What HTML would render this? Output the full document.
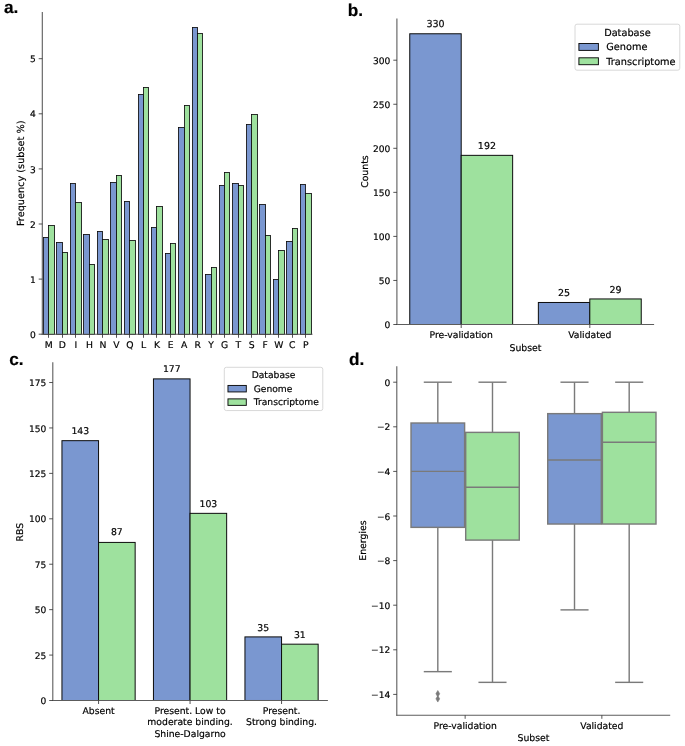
<!DOCTYPE html>
<html lang="en"><head><meta charset="utf-8"><title>Figure</title>
<style>
html,body{margin:0;padding:0;background:#fff;}
body{width:685px;height:746px;overflow:hidden;}
svg{display:block;}
text{font-family:"DejaVu Sans","Liberation Sans",sans-serif;fill:#000;text-rendering:geometricPrecision;stroke:#000;stroke-width:0.18px;}
text.pl{font-family:"Liberation Sans","DejaVu Sans",sans-serif;font-weight:bold;font-size:17.2px;fill:#000;}
</style></head><body>
<svg width="685" height="746" viewBox="0 0 685 746">
<rect width="685" height="746" fill="#fff" stroke="none"/>
<text x="3.9" y="13.4" class="pl">a.</text>
<rect x="43.50" y="237.50" width="5.00" height="97.00" fill="#7a97d0" stroke="#0c0c0c" stroke-width="0.85" />
<rect x="48.50" y="225.50" width="6.00" height="109.00" fill="#9ee19e" stroke="#0c0c0c" stroke-width="0.85" />
<rect x="56.50" y="242.50" width="6.00" height="92.00" fill="#7a97d0" stroke="#0c0c0c" stroke-width="0.85" />
<rect x="62.50" y="252.50" width="5.00" height="82.00" fill="#9ee19e" stroke="#0c0c0c" stroke-width="0.85" />
<rect x="70.50" y="183.50" width="5.00" height="151.00" fill="#7a97d0" stroke="#0c0c0c" stroke-width="0.85" />
<rect x="75.50" y="202.50" width="6.00" height="132.00" fill="#9ee19e" stroke="#0c0c0c" stroke-width="0.85" />
<rect x="83.50" y="234.50" width="6.00" height="100.00" fill="#7a97d0" stroke="#0c0c0c" stroke-width="0.85" />
<rect x="89.50" y="264.50" width="5.00" height="70.00" fill="#9ee19e" stroke="#0c0c0c" stroke-width="0.85" />
<rect x="97.50" y="231.50" width="5.00" height="103.00" fill="#7a97d0" stroke="#0c0c0c" stroke-width="0.85" />
<rect x="102.50" y="239.50" width="6.00" height="95.00" fill="#9ee19e" stroke="#0c0c0c" stroke-width="0.85" />
<rect x="110.50" y="182.50" width="6.00" height="152.00" fill="#7a97d0" stroke="#0c0c0c" stroke-width="0.85" />
<rect x="116.50" y="175.50" width="5.00" height="159.00" fill="#9ee19e" stroke="#0c0c0c" stroke-width="0.85" />
<rect x="124.50" y="201.50" width="5.00" height="133.00" fill="#7a97d0" stroke="#0c0c0c" stroke-width="0.85" />
<rect x="129.50" y="240.50" width="6.00" height="94.00" fill="#9ee19e" stroke="#0c0c0c" stroke-width="0.85" />
<rect x="138.50" y="94.50" width="5.00" height="240.00" fill="#7a97d0" stroke="#0c0c0c" stroke-width="0.85" />
<rect x="143.50" y="87.50" width="5.00" height="247.00" fill="#9ee19e" stroke="#0c0c0c" stroke-width="0.85" />
<rect x="151.50" y="227.50" width="5.00" height="107.00" fill="#7a97d0" stroke="#0c0c0c" stroke-width="0.85" />
<rect x="156.50" y="206.50" width="6.00" height="128.00" fill="#9ee19e" stroke="#0c0c0c" stroke-width="0.85" />
<rect x="165.50" y="253.50" width="5.00" height="81.00" fill="#7a97d0" stroke="#0c0c0c" stroke-width="0.85" />
<rect x="170.50" y="243.50" width="5.00" height="91.00" fill="#9ee19e" stroke="#0c0c0c" stroke-width="0.85" />
<rect x="178.50" y="127.50" width="6.00" height="207.00" fill="#7a97d0" stroke="#0c0c0c" stroke-width="0.85" />
<rect x="184.50" y="105.50" width="5.00" height="229.00" fill="#9ee19e" stroke="#0c0c0c" stroke-width="0.85" />
<rect x="192.50" y="27.50" width="5.00" height="307.00" fill="#7a97d0" stroke="#0c0c0c" stroke-width="0.85" />
<rect x="197.50" y="33.50" width="5.00" height="301.00" fill="#9ee19e" stroke="#0c0c0c" stroke-width="0.85" />
<rect x="205.50" y="274.50" width="6.00" height="60.00" fill="#7a97d0" stroke="#0c0c0c" stroke-width="0.85" />
<rect x="211.50" y="267.50" width="5.00" height="67.00" fill="#9ee19e" stroke="#0c0c0c" stroke-width="0.85" />
<rect x="219.50" y="185.50" width="5.00" height="149.00" fill="#7a97d0" stroke="#0c0c0c" stroke-width="0.85" />
<rect x="224.50" y="172.50" width="5.00" height="162.00" fill="#9ee19e" stroke="#0c0c0c" stroke-width="0.85" />
<rect x="232.50" y="183.50" width="6.00" height="151.00" fill="#7a97d0" stroke="#0c0c0c" stroke-width="0.85" />
<rect x="238.50" y="185.50" width="5.00" height="149.00" fill="#9ee19e" stroke="#0c0c0c" stroke-width="0.85" />
<rect x="246.50" y="124.50" width="5.00" height="210.00" fill="#7a97d0" stroke="#0c0c0c" stroke-width="0.85" />
<rect x="251.50" y="114.50" width="6.00" height="220.00" fill="#9ee19e" stroke="#0c0c0c" stroke-width="0.85" />
<rect x="259.50" y="204.50" width="6.00" height="130.00" fill="#7a97d0" stroke="#0c0c0c" stroke-width="0.85" />
<rect x="265.50" y="235.50" width="5.00" height="99.00" fill="#9ee19e" stroke="#0c0c0c" stroke-width="0.85" />
<rect x="273.50" y="279.50" width="5.00" height="55.00" fill="#7a97d0" stroke="#0c0c0c" stroke-width="0.85" />
<rect x="278.50" y="250.50" width="6.00" height="84.00" fill="#9ee19e" stroke="#0c0c0c" stroke-width="0.85" />
<rect x="286.50" y="241.50" width="6.00" height="93.00" fill="#7a97d0" stroke="#0c0c0c" stroke-width="0.85" />
<rect x="292.50" y="228.50" width="5.00" height="106.00" fill="#9ee19e" stroke="#0c0c0c" stroke-width="0.85" />
<rect x="300.50" y="184.50" width="5.00" height="150.00" fill="#7a97d0" stroke="#0c0c0c" stroke-width="0.85" />
<rect x="305.50" y="193.50" width="6.00" height="141.00" fill="#9ee19e" stroke="#0c0c0c" stroke-width="0.85" />
<line x1="42.30" y1="12.00" x2="42.30" y2="334.70" stroke="#5c5c5c" stroke-width="1.1" />
<line x1="41.80" y1="334.20" x2="312.50" y2="334.20" stroke="#5c5c5c" stroke-width="1.1" />
<line x1="48.50" y1="334.20" x2="48.50" y2="337.80" stroke="#2a2a2a" stroke-width="0.8" />
<text x="48.86" y="348.00" text-anchor="middle" font-size="9.25" >M</text>
<line x1="62.50" y1="334.20" x2="62.50" y2="337.80" stroke="#2a2a2a" stroke-width="0.8" />
<text x="62.39" y="348.00" text-anchor="middle" font-size="9.25" >D</text>
<line x1="75.50" y1="334.20" x2="75.50" y2="337.80" stroke="#2a2a2a" stroke-width="0.8" />
<text x="75.91" y="348.00" text-anchor="middle" font-size="9.25" >I</text>
<line x1="89.50" y1="334.20" x2="89.50" y2="337.80" stroke="#2a2a2a" stroke-width="0.8" />
<text x="89.44" y="348.00" text-anchor="middle" font-size="9.25" >H</text>
<line x1="102.50" y1="334.20" x2="102.50" y2="337.80" stroke="#2a2a2a" stroke-width="0.8" />
<text x="102.96" y="348.00" text-anchor="middle" font-size="9.25" >N</text>
<line x1="116.50" y1="334.20" x2="116.50" y2="337.80" stroke="#2a2a2a" stroke-width="0.8" />
<text x="116.49" y="348.00" text-anchor="middle" font-size="9.25" >V</text>
<line x1="129.50" y1="334.20" x2="129.50" y2="337.80" stroke="#2a2a2a" stroke-width="0.8" />
<text x="130.01" y="348.00" text-anchor="middle" font-size="9.25" >Q</text>
<line x1="143.50" y1="334.20" x2="143.50" y2="337.80" stroke="#2a2a2a" stroke-width="0.8" />
<text x="143.54" y="348.00" text-anchor="middle" font-size="9.25" >L</text>
<line x1="156.50" y1="334.20" x2="156.50" y2="337.80" stroke="#2a2a2a" stroke-width="0.8" />
<text x="157.06" y="348.00" text-anchor="middle" font-size="9.25" >K</text>
<line x1="170.50" y1="334.20" x2="170.50" y2="337.80" stroke="#2a2a2a" stroke-width="0.8" />
<text x="170.59" y="348.00" text-anchor="middle" font-size="9.25" >E</text>
<line x1="184.50" y1="334.20" x2="184.50" y2="337.80" stroke="#2a2a2a" stroke-width="0.8" />
<text x="184.11" y="348.00" text-anchor="middle" font-size="9.25" >A</text>
<line x1="197.50" y1="334.20" x2="197.50" y2="337.80" stroke="#2a2a2a" stroke-width="0.8" />
<text x="197.64" y="348.00" text-anchor="middle" font-size="9.25" >R</text>
<line x1="211.50" y1="334.20" x2="211.50" y2="337.80" stroke="#2a2a2a" stroke-width="0.8" />
<text x="211.16" y="348.00" text-anchor="middle" font-size="9.25" >Y</text>
<line x1="224.50" y1="334.20" x2="224.50" y2="337.80" stroke="#2a2a2a" stroke-width="0.8" />
<text x="224.69" y="348.00" text-anchor="middle" font-size="9.25" >G</text>
<line x1="238.50" y1="334.20" x2="238.50" y2="337.80" stroke="#2a2a2a" stroke-width="0.8" />
<text x="238.21" y="348.00" text-anchor="middle" font-size="9.25" >T</text>
<line x1="251.50" y1="334.20" x2="251.50" y2="337.80" stroke="#2a2a2a" stroke-width="0.8" />
<text x="251.74" y="348.00" text-anchor="middle" font-size="9.25" >S</text>
<line x1="265.50" y1="334.20" x2="265.50" y2="337.80" stroke="#2a2a2a" stroke-width="0.8" />
<text x="265.26" y="348.00" text-anchor="middle" font-size="9.25" >F</text>
<line x1="278.50" y1="334.20" x2="278.50" y2="337.80" stroke="#2a2a2a" stroke-width="0.8" />
<text x="278.79" y="348.00" text-anchor="middle" font-size="9.25" >W</text>
<line x1="292.50" y1="334.20" x2="292.50" y2="337.80" stroke="#2a2a2a" stroke-width="0.8" />
<text x="292.31" y="348.00" text-anchor="middle" font-size="9.25" >C</text>
<line x1="305.50" y1="334.20" x2="305.50" y2="337.80" stroke="#2a2a2a" stroke-width="0.8" />
<text x="305.84" y="348.00" text-anchor="middle" font-size="9.25" >P</text>
<line x1="38.70" y1="334.20" x2="42.30" y2="334.20" stroke="#2a2a2a" stroke-width="0.8" />
<text x="35.80" y="337.82" text-anchor="end" font-size="9.1" >0</text>
<line x1="38.70" y1="279.10" x2="42.30" y2="279.10" stroke="#2a2a2a" stroke-width="0.8" />
<text x="35.80" y="282.72" text-anchor="end" font-size="9.1" >1</text>
<line x1="38.70" y1="224.00" x2="42.30" y2="224.00" stroke="#2a2a2a" stroke-width="0.8" />
<text x="35.80" y="227.62" text-anchor="end" font-size="9.1" >2</text>
<line x1="38.70" y1="168.90" x2="42.30" y2="168.90" stroke="#2a2a2a" stroke-width="0.8" />
<text x="35.80" y="172.52" text-anchor="end" font-size="9.1" >3</text>
<line x1="38.70" y1="113.80" x2="42.30" y2="113.80" stroke="#2a2a2a" stroke-width="0.8" />
<text x="35.80" y="117.42" text-anchor="end" font-size="9.1" >4</text>
<line x1="38.70" y1="58.70" x2="42.30" y2="58.70" stroke="#2a2a2a" stroke-width="0.8" />
<text x="35.80" y="62.32" text-anchor="end" font-size="9.1" >5</text>
<text transform="translate(23.50 173.30) rotate(-90)" text-anchor="middle" font-size="9.72">Frequency (subset %)</text>
<text x="347.8" y="15.9" class="pl">b.</text>
<rect x="409.76" y="33.77" width="51.44" height="290.73" fill="#7a97d0" stroke="#0c0c0c" stroke-width="1.0" />
<rect x="461.20" y="155.35" width="51.44" height="169.15" fill="#9ee19e" stroke="#0c0c0c" stroke-width="1.0" />
<text x="435.48" y="27.07" text-anchor="middle" font-size="9.5" >330</text>
<text x="486.92" y="149.35" text-anchor="middle" font-size="9.5" >192</text>
<rect x="538.36" y="302.48" width="51.44" height="22.02" fill="#7a97d0" stroke="#0c0c0c" stroke-width="1.0" />
<rect x="589.80" y="298.95" width="51.44" height="25.55" fill="#9ee19e" stroke="#0c0c0c" stroke-width="1.0" />
<text x="564.08" y="296.38" text-anchor="middle" font-size="9.5" >25</text>
<text x="615.52" y="292.85" text-anchor="middle" font-size="9.5" >29</text>
<line x1="396.90" y1="18.40" x2="396.90" y2="325.00" stroke="#5c5c5c" stroke-width="1.1" />
<line x1="396.40" y1="324.50" x2="654.10" y2="324.50" stroke="#5c5c5c" stroke-width="1.1" />
<line x1="461.20" y1="324.50" x2="461.20" y2="328.00" stroke="#2a2a2a" stroke-width="0.8" />
<text x="461.20" y="338.00" text-anchor="middle" font-size="9.25" >Pre-validation</text>
<line x1="589.80" y1="324.50" x2="589.80" y2="328.00" stroke="#2a2a2a" stroke-width="0.8" />
<text x="589.80" y="338.00" text-anchor="middle" font-size="9.25" >Validated</text>
<line x1="393.30" y1="324.50" x2="396.90" y2="324.50" stroke="#2a2a2a" stroke-width="0.8" />
<text x="390.40" y="328.12" text-anchor="end" font-size="9.1" >0</text>
<line x1="393.30" y1="280.45" x2="396.90" y2="280.45" stroke="#2a2a2a" stroke-width="0.8" />
<text x="390.40" y="284.07" text-anchor="end" font-size="9.1" >50</text>
<line x1="393.30" y1="236.40" x2="396.90" y2="236.40" stroke="#2a2a2a" stroke-width="0.8" />
<text x="390.40" y="240.02" text-anchor="end" font-size="9.1" >100</text>
<line x1="393.30" y1="192.35" x2="396.90" y2="192.35" stroke="#2a2a2a" stroke-width="0.8" />
<text x="390.40" y="195.97" text-anchor="end" font-size="9.1" >150</text>
<line x1="393.30" y1="148.30" x2="396.90" y2="148.30" stroke="#2a2a2a" stroke-width="0.8" />
<text x="390.40" y="151.92" text-anchor="end" font-size="9.1" >200</text>
<line x1="393.30" y1="104.25" x2="396.90" y2="104.25" stroke="#2a2a2a" stroke-width="0.8" />
<text x="390.40" y="107.87" text-anchor="end" font-size="9.1" >250</text>
<line x1="393.30" y1="60.20" x2="396.90" y2="60.20" stroke="#2a2a2a" stroke-width="0.8" />
<text x="390.40" y="63.82" text-anchor="end" font-size="9.1" >300</text>
<text transform="translate(367.60 171.60) rotate(-90)" text-anchor="middle" font-size="9.3">Counts</text>
<text x="525.50" y="351.20" text-anchor="middle" font-size="9.3" >Subset</text>
<rect x="575" y="24.2" width="104.80" height="46.00" rx="2" ry="2" fill="#fff" fill-opacity="0.8" stroke="#d4d4d4" stroke-width="0.9"/>
<text x="627.40" y="36.00" text-anchor="middle" font-size="9.75" >Database</text>
<rect x="578.90" y="43.50" width="19.50" height="6.90" fill="#7a97d0" stroke="#0c0c0c" stroke-width="0.95" />
<rect x="578.90" y="57.80" width="19.50" height="6.90" fill="#9ee19e" stroke="#0c0c0c" stroke-width="0.95" />
<text x="606.30" y="50.30" text-anchor="start" font-size="9.75" >Genome</text>
<text x="606.30" y="64.60" text-anchor="start" font-size="9.75" >Transcriptome</text>
<text x="9.2" y="364.9" class="pl">c.</text>
<rect x="61.95" y="440.67" width="36.60" height="259.83" fill="#7a97d0" stroke="#0c0c0c" stroke-width="1.0" />
<rect x="98.55" y="542.42" width="36.60" height="158.08" fill="#9ee19e" stroke="#0c0c0c" stroke-width="1.0" />
<text x="80.25" y="433.67" text-anchor="middle" font-size="9.3" >143</text>
<text x="116.85" y="535.22" text-anchor="middle" font-size="9.3" >87</text>
<rect x="153.45" y="378.89" width="36.60" height="321.61" fill="#7a97d0" stroke="#0c0c0c" stroke-width="1.0" />
<rect x="190.05" y="513.35" width="36.60" height="187.15" fill="#9ee19e" stroke="#0c0c0c" stroke-width="1.0" />
<text x="171.75" y="371.89" text-anchor="middle" font-size="9.3" >177</text>
<text x="208.35" y="507.35" text-anchor="middle" font-size="9.3" >103</text>
<rect x="244.95" y="636.90" width="36.60" height="63.59" fill="#7a97d0" stroke="#0c0c0c" stroke-width="1.0" />
<rect x="281.55" y="644.17" width="36.60" height="56.33" fill="#9ee19e" stroke="#0c0c0c" stroke-width="1.0" />
<text x="263.25" y="630.70" text-anchor="middle" font-size="9.3" >35</text>
<text x="299.85" y="638.17" text-anchor="middle" font-size="9.3" >31</text>
<line x1="52.80" y1="362.30" x2="52.80" y2="701.00" stroke="#5c5c5c" stroke-width="1.1" />
<line x1="52.30" y1="700.50" x2="327.90" y2="700.50" stroke="#5c5c5c" stroke-width="1.1" />
<line x1="98.55" y1="700.50" x2="98.55" y2="704.00" stroke="#2a2a2a" stroke-width="0.8" />
<text x="98.55" y="713.90" text-anchor="middle" font-size="9.25" >Absent</text>
<line x1="190.05" y1="700.50" x2="190.05" y2="704.00" stroke="#2a2a2a" stroke-width="0.8" />
<text x="190.05" y="713.90" text-anchor="middle" font-size="9.25" >Present. Low to</text>
<text x="190.05" y="724.50" text-anchor="middle" font-size="9.25" >moderate binding.</text>
<line x1="281.55" y1="700.50" x2="281.55" y2="704.00" stroke="#2a2a2a" stroke-width="0.8" />
<text x="281.55" y="713.90" text-anchor="middle" font-size="9.25" >Present.</text>
<text x="281.55" y="724.50" text-anchor="middle" font-size="9.25" >Strong binding.</text>
<line x1="49.20" y1="700.50" x2="52.80" y2="700.50" stroke="#2a2a2a" stroke-width="0.8" />
<text x="46.30" y="704.12" text-anchor="end" font-size="9.1" >0</text>
<line x1="49.20" y1="655.08" x2="52.80" y2="655.08" stroke="#2a2a2a" stroke-width="0.8" />
<text x="46.30" y="658.69" text-anchor="end" font-size="9.1" >25</text>
<line x1="49.20" y1="609.65" x2="52.80" y2="609.65" stroke="#2a2a2a" stroke-width="0.8" />
<text x="46.30" y="613.27" text-anchor="end" font-size="9.1" >50</text>
<line x1="49.20" y1="564.23" x2="52.80" y2="564.23" stroke="#2a2a2a" stroke-width="0.8" />
<text x="46.30" y="567.84" text-anchor="end" font-size="9.1" >75</text>
<line x1="49.20" y1="518.80" x2="52.80" y2="518.80" stroke="#2a2a2a" stroke-width="0.8" />
<text x="46.30" y="522.42" text-anchor="end" font-size="9.1" >100</text>
<line x1="49.20" y1="473.38" x2="52.80" y2="473.38" stroke="#2a2a2a" stroke-width="0.8" />
<text x="46.30" y="476.99" text-anchor="end" font-size="9.1" >125</text>
<line x1="49.20" y1="427.95" x2="52.80" y2="427.95" stroke="#2a2a2a" stroke-width="0.8" />
<text x="46.30" y="431.57" text-anchor="end" font-size="9.1" >150</text>
<line x1="49.20" y1="382.53" x2="52.80" y2="382.53" stroke="#2a2a2a" stroke-width="0.8" />
<text x="46.30" y="386.14" text-anchor="end" font-size="9.1" >175</text>
<text transform="translate(23.10 532.20) rotate(-90)" text-anchor="middle" font-size="9.25">RBS</text>
<text x="190.05" y="737.20" text-anchor="middle" font-size="9.25" >Shine-Dalgarno</text>
<rect x="224.3" y="367.3" width="98.51" height="43.24" rx="2" ry="2" fill="#fff" fill-opacity="0.8" stroke="#d4d4d4" stroke-width="0.9"/>
<text x="273.56" y="378.39" text-anchor="middle" font-size="9.16" >Database</text>
<rect x="227.97" y="385.44" width="18.33" height="6.49" fill="#7a97d0" stroke="#0c0c0c" stroke-width="0.95" />
<rect x="227.97" y="398.88" width="18.33" height="6.49" fill="#9ee19e" stroke="#0c0c0c" stroke-width="0.95" />
<text x="253.72" y="391.83" text-anchor="start" font-size="9.16" >Genome</text>
<text x="253.72" y="405.28" text-anchor="start" font-size="9.16" >Transcriptome</text>
<text x="348.9" y="365.0" class="pl">d.</text>
<line x1="437.81" y1="382.20" x2="437.81" y2="423.01" stroke="#7a7a7a" stroke-width="1.42" />
<line x1="437.81" y1="527.37" x2="437.81" y2="671.65" stroke="#7a7a7a" stroke-width="1.42" />
<line x1="423.77" y1="382.20" x2="451.85" y2="382.20" stroke="#7a7a7a" stroke-width="1.42" />
<line x1="423.77" y1="671.65" x2="451.85" y2="671.65" stroke="#7a7a7a" stroke-width="1.42" />
<rect x="411.02" y="423.01" width="53.59" height="104.36" fill="#7a97d0" stroke="#7a7a7a" stroke-width="1.42" />
<line x1="411.02" y1="471.40" x2="464.60" y2="471.40" stroke="#7a7a7a" stroke-width="1.42" />
<line x1="492.49" y1="382.20" x2="492.49" y2="432.38" stroke="#7a7a7a" stroke-width="1.42" />
<line x1="492.49" y1="540.08" x2="492.49" y2="682.36" stroke="#7a7a7a" stroke-width="1.42" />
<line x1="478.45" y1="382.20" x2="506.53" y2="382.20" stroke="#7a7a7a" stroke-width="1.42" />
<line x1="478.45" y1="682.36" x2="506.53" y2="682.36" stroke="#7a7a7a" stroke-width="1.42" />
<rect x="465.70" y="432.38" width="53.59" height="107.71" fill="#9ee19e" stroke="#7a7a7a" stroke-width="1.42" />
<line x1="465.70" y1="487.23" x2="519.28" y2="487.23" stroke="#7a7a7a" stroke-width="1.42" />
<line x1="574.51" y1="382.20" x2="574.51" y2="413.64" stroke="#7a7a7a" stroke-width="1.42" />
<line x1="574.51" y1="524.03" x2="574.51" y2="609.88" stroke="#7a7a7a" stroke-width="1.42" />
<line x1="560.47" y1="382.20" x2="588.55" y2="382.20" stroke="#7a7a7a" stroke-width="1.42" />
<line x1="560.47" y1="609.88" x2="588.55" y2="609.88" stroke="#7a7a7a" stroke-width="1.42" />
<rect x="547.72" y="413.64" width="53.59" height="110.39" fill="#7a97d0" stroke="#7a7a7a" stroke-width="1.42" />
<line x1="547.72" y1="460.03" x2="601.30" y2="460.03" stroke="#7a7a7a" stroke-width="1.42" />
<line x1="629.19" y1="382.20" x2="629.19" y2="412.31" stroke="#7a7a7a" stroke-width="1.42" />
<line x1="629.19" y1="524.03" x2="629.19" y2="682.36" stroke="#7a7a7a" stroke-width="1.42" />
<line x1="615.15" y1="382.20" x2="643.23" y2="382.20" stroke="#7a7a7a" stroke-width="1.42" />
<line x1="615.15" y1="682.36" x2="643.23" y2="682.36" stroke="#7a7a7a" stroke-width="1.42" />
<rect x="602.40" y="412.31" width="53.59" height="111.72" fill="#9ee19e" stroke="#7a7a7a" stroke-width="1.42" />
<line x1="602.40" y1="442.19" x2="655.98" y2="442.19" stroke="#7a7a7a" stroke-width="1.42" />
<path d="M437.81 690.53 L439.71 693.73 L437.81 696.93 L435.91 693.73 Z" fill="#7a7a7a" stroke="#7a7a7a" stroke-width="0.6"/>
<path d="M437.81 695.66 L439.71 698.86 L437.81 702.06 L435.91 698.86 Z" fill="#7a7a7a" stroke="#7a7a7a" stroke-width="0.6"/>
<line x1="396.80" y1="366.30" x2="396.80" y2="715.80" stroke="#5c5c5c" stroke-width="1.1" />
<line x1="396.30" y1="715.30" x2="670.20" y2="715.30" stroke="#5c5c5c" stroke-width="1.1" />
<line x1="465.15" y1="715.30" x2="465.15" y2="718.80" stroke="#2a2a2a" stroke-width="0.8" />
<text x="465.15" y="728.90" text-anchor="middle" font-size="9.25" >Pre-validation</text>
<line x1="601.85" y1="715.30" x2="601.85" y2="718.80" stroke="#2a2a2a" stroke-width="0.8" />
<text x="601.85" y="728.90" text-anchor="middle" font-size="9.25" >Validated</text>
<line x1="393.20" y1="382.20" x2="396.80" y2="382.20" stroke="#2a2a2a" stroke-width="0.8" />
<text x="390.30" y="385.82" text-anchor="end" font-size="9.1" >0</text>
<line x1="393.20" y1="426.80" x2="396.80" y2="426.80" stroke="#2a2a2a" stroke-width="0.8" />
<text x="390.30" y="430.42" text-anchor="end" font-size="9.1" >−2</text>
<line x1="393.20" y1="471.40" x2="396.80" y2="471.40" stroke="#2a2a2a" stroke-width="0.8" />
<text x="390.30" y="475.02" text-anchor="end" font-size="9.1" >−4</text>
<line x1="393.20" y1="516.00" x2="396.80" y2="516.00" stroke="#2a2a2a" stroke-width="0.8" />
<text x="390.30" y="519.62" text-anchor="end" font-size="9.1" >−6</text>
<line x1="393.20" y1="560.60" x2="396.80" y2="560.60" stroke="#2a2a2a" stroke-width="0.8" />
<text x="390.30" y="564.22" text-anchor="end" font-size="9.1" >−8</text>
<line x1="393.20" y1="605.20" x2="396.80" y2="605.20" stroke="#2a2a2a" stroke-width="0.8" />
<text x="390.30" y="608.82" text-anchor="end" font-size="9.1" >−10</text>
<line x1="393.20" y1="649.80" x2="396.80" y2="649.80" stroke="#2a2a2a" stroke-width="0.8" />
<text x="390.30" y="653.42" text-anchor="end" font-size="9.1" >−12</text>
<line x1="393.20" y1="694.40" x2="396.80" y2="694.40" stroke="#2a2a2a" stroke-width="0.8" />
<text x="390.30" y="698.02" text-anchor="end" font-size="9.1" >−14</text>
<text transform="translate(366.00 540.50) rotate(-90)" text-anchor="middle" font-size="9.35">Energies</text>
<text x="533.50" y="741.40" text-anchor="middle" font-size="9.3" >Subset</text>
</svg>
</body></html>
